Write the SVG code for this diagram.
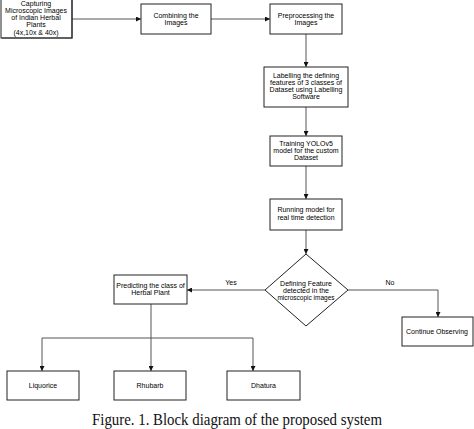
<svg xmlns="http://www.w3.org/2000/svg" width="474" height="429" viewBox="0 0 474 429">
<defs>
<style>
.box{fill:#fff;stroke:#222;stroke-width:1}
.sh{fill:none;stroke:#333;stroke-width:1.2}
.t{font-family:"Liberation Sans",Arial,sans-serif;font-size:7px;fill:#000;text-anchor:middle}
.l{fill:none;stroke:#555;stroke-width:1}
.cap{font-family:"Liberation Serif","Times New Roman",serif;font-size:17px;fill:#111;text-anchor:middle}
</style>
<marker id="ah" viewBox="0 0 10 10" refX="10" refY="5" markerWidth="5" markerHeight="5" orient="auto" markerUnits="userSpaceOnUse">
<path d="M0,0 L10,5 L0,10 z" fill="#111"/>
</marker>
</defs>
<rect width="474" height="429" fill="#fff"/>
<g id="connectors">
<line class="l" x1="72" y1="19" x2="141" y2="19" marker-end="url(#ah)"/>
<line class="l" x1="211" y1="19" x2="270" y2="19" marker-end="url(#ah)"/>
<line class="l" x1="306" y1="34" x2="306" y2="67" marker-end="url(#ah)"/>
<line class="l" x1="306" y1="107" x2="306" y2="136" marker-end="url(#ah)"/>
<line class="l" x1="306" y1="166" x2="306" y2="199" marker-end="url(#ah)"/>
<line class="l" x1="306" y1="230" x2="306" y2="254" marker-end="url(#ah)"/>
<line class="l" x1="265" y1="290" x2="187" y2="290" marker-end="url(#ah)"/>
<polyline class="l" points="348,290 438,290 438,317" marker-end="url(#ah)"/>
<line class="l" x1="151" y1="304" x2="151" y2="338"/>
<line class="l" x1="42" y1="338" x2="253" y2="338"/>
<line class="l" x1="42" y1="338" x2="42" y2="371" marker-end="url(#ah)"/>
<line class="l" x1="151" y1="338" x2="151" y2="371" marker-end="url(#ah)"/>
<line class="l" x1="253" y1="338" x2="253" y2="371" marker-end="url(#ah)"/>
<text class="t" x="231" y="285">Yes</text>
<text class="t" x="390" y="285">No</text>
</g>
<g id="capture">
<rect class="box" x="1" y="-1" width="71" height="39"/>
<polyline class="sh" points="72,0 72,38 2,38"/>
<text class="t" x="36" y="6">Capturing</text>
<text class="t" x="36" y="13">Microscopic Images</text>
<text class="t" x="36" y="20">of Indian Herbal</text>
<text class="t" x="36" y="27">Plants</text>
<text class="t" x="36" y="35">(4x,10x &amp; 40x)</text>
</g>
<g id="combine">
<rect class="box" x="141" y="4" width="70" height="30"/>
<text class="t" x="176" y="18">Combining the</text>
<text class="t" x="176" y="25">Images</text>
</g>
<g id="preprocess">
<rect class="box" x="270" y="4" width="72" height="30"/>
<text class="t" x="306" y="18">Preprocessing the</text>
<text class="t" x="306" y="25">Images</text>
</g>
<g id="label">
<rect class="box" x="264" y="67" width="84" height="40"/>
<text class="t" x="306" y="78">Labelling the defining</text>
<text class="t" x="306" y="85">features of 3 classes of</text>
<text class="t" x="306" y="92">Dataset using Labelling</text>
<text class="t" x="306" y="99">Software</text>
</g>
<g id="train">
<rect class="box" x="270" y="136" width="72" height="30"/>
<text class="t" x="306" y="146">Training YOLOv5</text>
<text class="t" x="306" y="153">model for the custom</text>
<text class="t" x="306" y="160">Dataset</text>
</g>
<g id="run">
<rect class="box" x="270" y="199" width="72" height="31"/>
<text class="t" x="306" y="212">Running model for</text>
<text class="t" x="306" y="220">real time detection</text>
</g>
<g id="decision">
<polygon class="box" points="306,254 348,290 306,326 265,290"/>
<text class="t" x="306" y="286">Defining Feature</text>
<text class="t" x="306" y="293">detected in the</text>
<text class="t" x="306" y="300" style="font-size:6.5px">microscopic images</text>
</g>
<g id="predict">
<rect class="box" x="114" y="275" width="73" height="29"/>
<text class="t" x="150.5" y="288">Predicting the class of</text>
<text class="t" x="150.5" y="295">Herbal Plant</text>
</g>
<g id="continue">
<rect class="box" x="402" y="317" width="71" height="29"/>
<text class="t" x="437" y="334">Continue Observing</text>
</g>
<g id="liquorice">
<rect class="box" x="7" y="371" width="72" height="29"/>
<text class="t" x="43" y="388">Liquorice</text>
</g>
<g id="rhubarb">
<rect class="box" x="114" y="371" width="72" height="29"/>
<text class="t" x="150" y="388">Rhubarb</text>
</g>
<g id="dhatura">
<rect class="box" x="227" y="371" width="73" height="29"/>
<text class="t" x="263.5" y="388">Dhatura</text>
</g>
<text class="cap" x="237" y="425" textLength="290" lengthAdjust="spacingAndGlyphs">Figure. 1. Block diagram of the proposed system</text>
</svg>
